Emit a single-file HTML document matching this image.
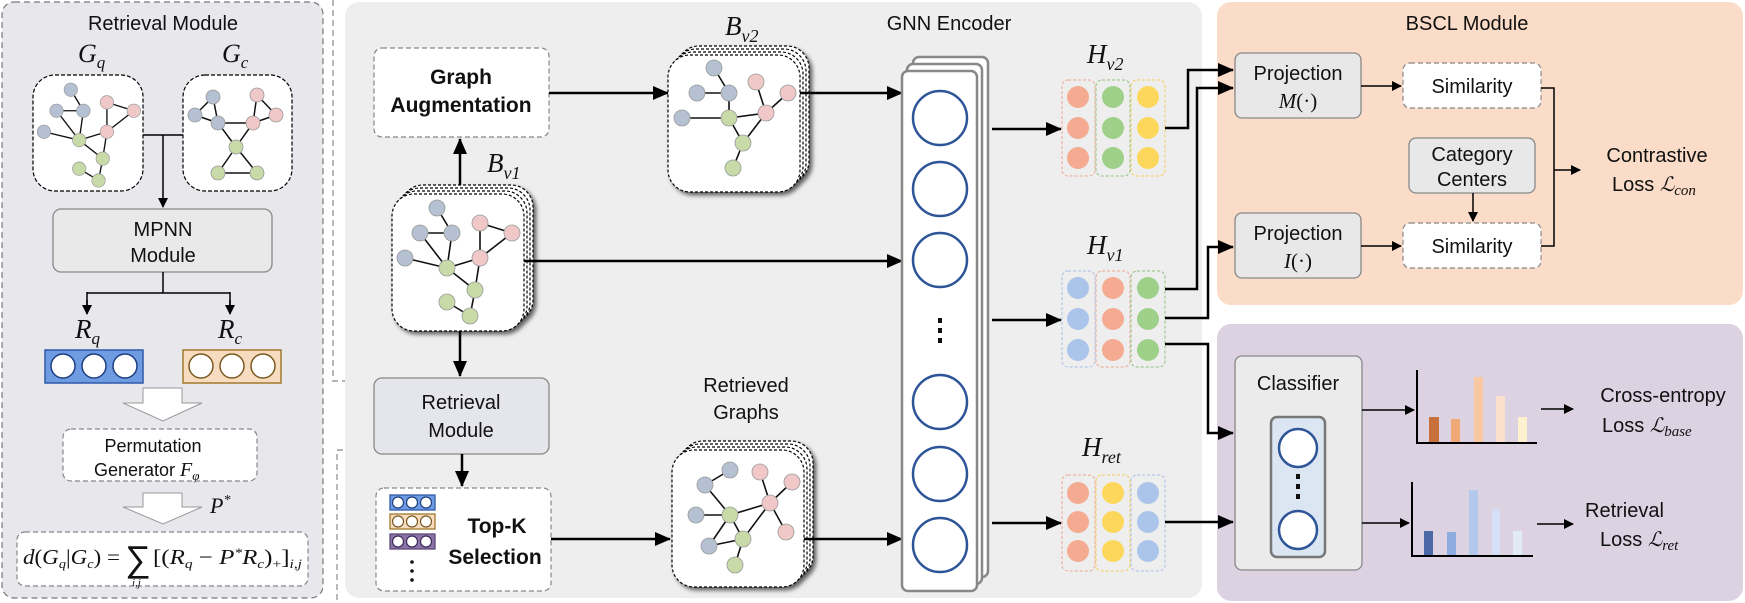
<!DOCTYPE html>
<html><head><meta charset="utf-8"><style>
html,body{margin:0;padding:0;background:#fff;}
svg{display:block;}
text{font-family:"Liberation Sans",sans-serif;fill:#111;}
.m{font-family:"Liberation Serif",serif;font-style:italic;}
</style></head><body>
<svg width="1745" height="603" viewBox="0 0 1745 603" xmlns="http://www.w3.org/2000/svg">
<defs>
<marker id="a" markerWidth="10" markerHeight="10" refX="9" refY="5" orient="auto" markerUnits="userSpaceOnUse"><path d="M0,0 L10,5 L0,10 z" fill="#000"/></marker>
<marker id="ab" markerWidth="16" markerHeight="14" refX="15" refY="7" orient="auto" markerUnits="userSpaceOnUse"><path d="M0,0 L16,7 L0,14 z" fill="#000"/></marker>
<g id="card">
<rect x="9" y="-9" width="132" height="137" rx="22" fill="#fff" stroke="#000" stroke-dasharray="3,2" stroke-width="1.2"/>
<rect x="6" y="-6" width="132" height="137" rx="22" fill="#fff" stroke="#000" stroke-dasharray="3,2" stroke-width="1.2"/>
<rect x="3" y="-3" width="132" height="137" rx="22" fill="#fff" stroke="#000" stroke-dasharray="3,2" stroke-width="1.2"/>
<rect x="0" y="0" width="132" height="137" rx="22" fill="#fff" stroke="#000" stroke-dasharray="3,2" stroke-width="1.2"/>
</g>
<g id="g1" stroke="#111" stroke-width="1.6">
<line x1="45" y1="14" x2="60" y2="39"/><line x1="28" y1="39" x2="60" y2="39"/><line x1="28" y1="39" x2="55" y2="74"/><line x1="60" y1="39" x2="55" y2="74"/><line x1="13" y1="64" x2="55" y2="74"/><line x1="55" y1="74" x2="88" y2="64"/><line x1="88" y1="29" x2="88" y2="64"/><line x1="88" y1="29" x2="120" y2="39"/><line x1="120" y1="39" x2="88" y2="64"/><line x1="55" y1="74" x2="83" y2="96"/><line x1="88" y1="64" x2="83" y2="96"/><line x1="83" y1="96" x2="78" y2="122"/><line x1="55" y1="108" x2="78" y2="122"/>
<g stroke="#999" stroke-width="0.8">
<ellipse cx="45" cy="14" rx="8" ry="8" fill="#b5c1d2"/><ellipse cx="28" cy="39" rx="8" ry="8" fill="#b5c1d2"/><ellipse cx="60" cy="39" rx="8" ry="8" fill="#b5c1d2"/><ellipse cx="13" cy="64" rx="8" ry="8" fill="#b5c1d2"/>
<ellipse cx="88" cy="29" rx="8" ry="8" fill="#f1c8c8"/><ellipse cx="120" cy="39" rx="8" ry="8" fill="#f1c8c8"/><ellipse cx="88" cy="64" rx="8" ry="8" fill="#f1c8c8"/>
<ellipse cx="55" cy="74" rx="8" ry="8" fill="#c7daa8"/><ellipse cx="83" cy="96" rx="8" ry="8" fill="#c7daa8"/><ellipse cx="55" cy="108" rx="8" ry="8" fill="#c7daa8"/><ellipse cx="78" cy="122" rx="8" ry="8" fill="#c7daa8"/>
</g></g>
<g id="g2" stroke="#111" stroke-width="1.6">
<line x1="46" y1="13" x2="61" y2="38"/><line x1="29" y1="38" x2="61" y2="38"/><line x1="61" y1="38" x2="61" y2="63"/><line x1="14" y1="63" x2="61" y2="63"/><line x1="61" y1="63" x2="98" y2="58"/><line x1="88" y1="27" x2="98" y2="58"/><line x1="120" y1="38" x2="98" y2="58"/><line x1="61" y1="63" x2="75" y2="88"/><line x1="98" y1="58" x2="75" y2="88"/><line x1="75" y1="88" x2="65" y2="113"/>
<g stroke="#999" stroke-width="0.8">
<ellipse cx="46" cy="13" rx="8" ry="8" fill="#b5c1d2"/><ellipse cx="29" cy="38" rx="8" ry="8" fill="#b5c1d2"/><ellipse cx="61" cy="38" rx="8" ry="8" fill="#b5c1d2"/><ellipse cx="14" cy="63" rx="8" ry="8" fill="#b5c1d2"/>
<ellipse cx="88" cy="27" rx="8" ry="8" fill="#f1c8c8"/><ellipse cx="120" cy="38" rx="8" ry="8" fill="#f1c8c8"/><ellipse cx="98" cy="58" rx="8" ry="8" fill="#f1c8c8"/>
<ellipse cx="61" cy="63" rx="8" ry="8" fill="#c7daa8"/><ellipse cx="75" cy="88" rx="8" ry="8" fill="#c7daa8"/><ellipse cx="65" cy="113" rx="8" ry="8" fill="#c7daa8"/>
</g></g>
<g id="g3" stroke="#111" stroke-width="1.6">
<line x1="58" y1="20" x2="33" y2="35"/><line x1="33" y1="35" x2="58" y2="65"/><line x1="24" y1="65" x2="58" y2="65"/><line x1="58" y1="65" x2="98" y2="53"/><line x1="88" y1="22" x2="98" y2="53"/><line x1="120" y1="32" x2="98" y2="53"/><line x1="98" y1="53" x2="71" y2="89"/><line x1="58" y1="65" x2="71" y2="89"/><line x1="58" y1="65" x2="37" y2="96"/><line x1="37" y1="96" x2="71" y2="89"/><line x1="71" y1="89" x2="63" y2="115"/><line x1="98" y1="53" x2="114" y2="82"/>
<g stroke="#999" stroke-width="0.8">
<ellipse cx="58" cy="20" rx="8" ry="8" fill="#b5c1d2"/><ellipse cx="33" cy="35" rx="8" ry="8" fill="#b5c1d2"/><ellipse cx="24" cy="65" rx="8" ry="8" fill="#b5c1d2"/><ellipse cx="37" cy="96" rx="8" ry="8" fill="#b5c1d2"/>
<ellipse cx="88" cy="22" rx="8" ry="8" fill="#f1c8c8"/><ellipse cx="120" cy="32" rx="8" ry="8" fill="#f1c8c8"/><ellipse cx="98" cy="53" rx="8" ry="8" fill="#f1c8c8"/><ellipse cx="114" cy="82" rx="8" ry="8" fill="#f1c8c8"/>
<ellipse cx="58" cy="65" rx="8" ry="8" fill="#c7daa8"/><ellipse cx="71" cy="89" rx="8" ry="8" fill="#c7daa8"/><ellipse cx="63" cy="115" rx="8" ry="8" fill="#c7daa8"/>
</g></g>
<filter id="sh" x="-10%" y="-10%" width="130%" height="130%"><feDropShadow dx="3" dy="3" stdDeviation="2" flood-color="#000" flood-opacity="0.6"/></filter>
</defs>

<!-- LEFT PANEL -->
<rect x="2" y="2" width="321" height="596" rx="12" fill="#e7e7ec" stroke="#777" stroke-dasharray="6,4" stroke-width="1.2"/>
<text x="163" y="30" font-size="20" text-anchor="middle">Retrieval Module</text>
<text x="78" y="62" font-size="26" class="m">G<tspan font-size="17" dy="6">q</tspan></text>
<text x="222" y="62" font-size="26" class="m">G<tspan font-size="17" dy="6">c</tspan></text>
<rect x="33" y="75" width="110" height="116" rx="22" fill="#fff" stroke="#000" stroke-dasharray="4,2" stroke-width="1.2"/>
<g transform="translate(33,78) scale(0.84)"><use href="#g1"/></g>
<rect x="183" y="75" width="109" height="116" rx="22" fill="#fff" stroke="#000" stroke-dasharray="4,2" stroke-width="1.2"/>
<g stroke="#111" stroke-width="1.5">
<line x1="213" y1="97" x2="195" y2="115"/><line x1="195" y1="115" x2="218" y2="123"/><line x1="213" y1="97" x2="218" y2="123"/>
<line x1="257" y1="95" x2="276" y2="115"/><line x1="276" y1="115" x2="253" y2="123"/><line x1="257" y1="95" x2="253" y2="123"/>
<line x1="218" y1="123" x2="253" y2="123"/><line x1="218" y1="123" x2="236" y2="147"/><line x1="253" y1="123" x2="236" y2="147"/>
<line x1="236" y1="147" x2="218" y2="173"/><line x1="236" y1="147" x2="257" y2="173"/><line x1="218" y1="173" x2="257" y2="173"/>
</g>
<g stroke="#999" stroke-width="0.8">
<ellipse cx="213" cy="97" rx="7" ry="7" fill="#b5c1d2"/><ellipse cx="195" cy="115" rx="7" ry="7" fill="#b5c1d2"/><ellipse cx="218" cy="123" rx="7" ry="7" fill="#b5c1d2"/>
<ellipse cx="257" cy="95" rx="7" ry="7" fill="#f1c8c8"/><ellipse cx="276" cy="115" rx="7" ry="7" fill="#f1c8c8"/><ellipse cx="253" cy="123" rx="7" ry="7" fill="#f1c8c8"/>
<ellipse cx="236" cy="147" rx="7" ry="7" fill="#c7daa8"/><ellipse cx="218" cy="173" rx="7" ry="7" fill="#c7daa8"/><ellipse cx="257" cy="173" rx="7" ry="7" fill="#c7daa8"/>
</g>
<path d="M143,135 H183 M163,135 V207" stroke="#000" stroke-width="1.5" fill="none" marker-end="url(#a)"/>
<rect x="53" y="209" width="219" height="63" rx="8" fill="#e9e9e9" stroke="#888" stroke-width="1.3"/>
<text x="163" y="236" font-size="20" text-anchor="middle">MPNN</text>
<text x="163" y="262" font-size="20" text-anchor="middle">Module</text>
<path d="M163,272 V293 M87,293 H230 M87,292 V313 M230,292 V313" stroke="#000" stroke-width="1.5" fill="none"/>
<path d="M87,300 V314" stroke="#000" stroke-width="1.5" marker-end="url(#a)"/>
<path d="M230,300 V314" stroke="#000" stroke-width="1.5" marker-end="url(#a)"/>
<text x="75" y="338" font-size="27" class="m">R<tspan font-size="17" dy="6">q</tspan></text>
<text x="218" y="338" font-size="27" class="m">R<tspan font-size="17" dy="6">c</tspan></text>
<rect x="45" y="350" width="98" height="33" fill="#6f9be3" stroke="#2f5aa8" stroke-width="1.5"/>
<circle cx="63" cy="366" r="12" fill="#fff" stroke="#1d3f80" stroke-width="1.5"/><circle cx="94" cy="366" r="12" fill="#fff" stroke="#1d3f80" stroke-width="1.5"/><circle cx="125" cy="366" r="12" fill="#fff" stroke="#1d3f80" stroke-width="1.5"/>
<rect x="183" y="350" width="98" height="33" fill="#f8dcbf" stroke="#a0782c" stroke-width="1.5"/>
<circle cx="201" cy="366" r="12" fill="#fff" stroke="#7a5a20" stroke-width="1.5"/><circle cx="232" cy="366" r="12" fill="#fff" stroke="#7a5a20" stroke-width="1.5"/><circle cx="263" cy="366" r="12" fill="#fff" stroke="#7a5a20" stroke-width="1.5"/>
<polygon points="143,388 182,388 182,403 202,403 163,421 123,403 143,403" fill="#fff" stroke="#999" stroke-width="1"/>
<rect x="63" y="429" width="194" height="52" rx="8" fill="#fff" stroke="#888" stroke-dasharray="5,3" stroke-width="1.2"/>
<text x="153" y="452" font-size="18" text-anchor="middle">Permutation</text>
<text x="94" y="476" font-size="18">Generator <tspan class="m" font-size="20">F</tspan><tspan class="m" font-size="13" dy="4">φ</tspan></text>
<polygon points="143,493 182,493 182,507 202,507 163,524 123,507 143,507" fill="#fff" stroke="#999" stroke-width="1"/>
<text x="210" y="513" font-size="22" class="m">P<tspan font-size="14" dy="-9">*</tspan></text>
<rect x="17" y="532" width="291" height="54" rx="8" fill="#fff" stroke="#888" stroke-dasharray="5,3" stroke-width="1.2"/>
<text x="23" y="564" font-size="21" class="m" textLength="97" lengthAdjust="spacingAndGlyphs">d<tspan font-style="normal">(</tspan>G<tspan font-size="13" dy="4">q</tspan><tspan dy="-4" font-style="normal">|</tspan>G<tspan font-size="13" dy="4">c</tspan><tspan dy="-4" font-style="normal">) =</tspan></text>
<text x="125" y="571" font-size="36" font-family="DejaVu Serif">∑</text>
<text x="132" y="586" font-size="11" class="m">i,j</text>
<text x="153" y="564" font-size="21" class="m" textLength="149" lengthAdjust="spacingAndGlyphs"><tspan font-style="normal">[(</tspan>R<tspan font-size="13" dy="4">q</tspan><tspan dy="-4" font-style="normal"> − </tspan>P<tspan font-size="13" dy="-7">*</tspan><tspan dy="7">R</tspan><tspan font-size="13" dy="4">c</tspan><tspan dy="-4" font-style="normal">)</tspan><tspan font-size="13" dy="4" font-style="normal">+</tspan><tspan dy="-4" font-style="normal">]</tspan><tspan font-size="13" dy="4">i,j</tspan></text>

<!-- dashed connectors -->
<path d="M333,0 V381 H373 M373,450 H337 V603" stroke="#888" stroke-dasharray="6,4" stroke-width="1.2" fill="none"/>

<!-- MIDDLE PANEL -->
<rect x="345" y="2" width="857" height="596" rx="14" fill="#eeeeee"/>
<rect x="374" y="48" width="175" height="89" rx="8" fill="#fff" stroke="#888" stroke-dasharray="5,3" stroke-width="1.2"/>
<text x="461" y="84" font-size="21" font-weight="bold" text-anchor="middle">Graph</text>
<text x="461" y="112" font-size="21" font-weight="bold" text-anchor="middle">Augmentation</text>
<path d="M549,93 H668" stroke="#000" stroke-width="2.5" marker-end="url(#ab)"/>
<text x="725" y="35" font-size="27" class="m">B<tspan font-size="18" dy="7">v2</tspan></text>
<g transform="translate(668,55)" filter="url(#sh)"><use href="#card"/></g>
<g transform="translate(668,55)"><use href="#g2"/></g>
<path d="M800,93 H902" stroke="#000" stroke-width="2.5" marker-end="url(#ab)"/>
<text x="487" y="172" font-size="27" class="m">B<tspan font-size="18" dy="7">v1</tspan></text>
<path d="M460,192 V139" stroke="#000" stroke-width="2.5" marker-end="url(#ab)"/>
<g transform="translate(392,194)" filter="url(#sh)"><use href="#card"/></g>
<g transform="translate(392,194)"><use href="#g1"/></g>
<path d="M524,261 H902" stroke="#000" stroke-width="2.5" marker-end="url(#ab)"/>
<path d="M460,331 V376" stroke="#000" stroke-width="2.5" marker-end="url(#ab)"/>
<rect x="374" y="378" width="175" height="76" rx="8" fill="#e5e5ec" stroke="#888" stroke-width="1.3"/>
<text x="461" y="409" font-size="20" text-anchor="middle">Retrieval</text>
<text x="461" y="437" font-size="20" text-anchor="middle">Module</text>
<path d="M462,454 V486" stroke="#000" stroke-width="2.5" marker-end="url(#ab)"/>
<rect x="376" y="488" width="175" height="103" rx="8" fill="#fff" stroke="#888" stroke-dasharray="5,3" stroke-width="1.2"/>
<g stroke-width="1.3">
<rect x="390" y="495" width="45" height="15" fill="#6f9be3" stroke="#2f5aa8"/>
<rect x="390" y="514" width="45" height="15" fill="#f8dcbf" stroke="#a0782c"/>
<rect x="390" y="534" width="45" height="15" fill="#8d74a8" stroke="#5a4a78"/>
</g>
<g fill="#fff" stroke-width="1.2">
<circle cx="398" cy="502.5" r="5.5" stroke="#1d3f80"/><circle cx="412" cy="502.5" r="5.5" stroke="#1d3f80"/><circle cx="426" cy="502.5" r="5.5" stroke="#1d3f80"/>
<circle cx="398" cy="521.5" r="5.5" stroke="#7a5a20"/><circle cx="412" cy="521.5" r="5.5" stroke="#7a5a20"/><circle cx="426" cy="521.5" r="5.5" stroke="#7a5a20"/>
<circle cx="398" cy="541.5" r="5.5" stroke="#3a2a58"/><circle cx="412" cy="541.5" r="5.5" stroke="#3a2a58"/><circle cx="426" cy="541.5" r="5.5" stroke="#3a2a58"/>
</g>
<circle cx="412" cy="562" r="1.8" fill="#111"/><circle cx="412" cy="571" r="1.8" fill="#111"/><circle cx="412" cy="580" r="1.8" fill="#111"/>
<text x="497" y="533" font-size="21" font-weight="bold" text-anchor="middle">Top-K</text>
<text x="495" y="564" font-size="21" font-weight="bold" text-anchor="middle">Selection</text>
<path d="M551,539 H670" stroke="#000" stroke-width="2.5" marker-end="url(#ab)"/>
<text x="746" y="392" font-size="20" text-anchor="middle">Retrieved</text>
<text x="746" y="419" font-size="20" text-anchor="middle">Graphs</text>
<g transform="translate(672,450)" filter="url(#sh)"><use href="#card"/></g>
<g transform="translate(672,450)"><use href="#g3"/></g>
<path d="M804,539 H902" stroke="#000" stroke-width="2.5" marker-end="url(#ab)"/>
<text x="949" y="30" font-size="20" text-anchor="middle">GNN Encoder</text>
<rect x="913" y="57" width="75" height="520" rx="6" fill="#fff" stroke="#888" stroke-width="2.5"/>
<rect x="907" y="64" width="75" height="520" rx="6" fill="#fff" stroke="#888" stroke-width="2.5"/>
<rect x="902" y="71" width="75" height="520" rx="6" fill="#fff" stroke="#888" stroke-width="2.5"/>
<g fill="none" stroke="#2e5597" stroke-width="2.5">
<circle cx="940" cy="118" r="27"/><circle cx="940" cy="189" r="27"/><circle cx="940" cy="260" r="27"/>
<circle cx="940" cy="402" r="27"/><circle cx="940" cy="474" r="27"/><circle cx="940" cy="545" r="27"/>
</g>
<rect x="938" y="318" width="4" height="5" fill="#111"/><rect x="938" y="328" width="4" height="5" fill="#111"/><rect x="938" y="338" width="4" height="5" fill="#111"/>
<path d="M992,129 H1061" stroke="#000" stroke-width="2.5" marker-end="url(#ab)"/>
<path d="M992,320 H1061" stroke="#000" stroke-width="2.5" marker-end="url(#ab)"/>
<path d="M992,523 H1061" stroke="#000" stroke-width="2.5" marker-end="url(#ab)"/>

<!-- H vectors -->
<text x="1087" y="63" font-size="27" class="m">H<tspan font-size="18" dy="7">v2</tspan></text>
<g stroke-dasharray="3,2" stroke-width="1" fill="none">
<rect x="1062" y="80" width="33" height="96" rx="6" stroke="#eea58e"/><rect x="1096" y="80" width="34" height="96" rx="6" stroke="#8fc27c"/><rect x="1131" y="80" width="34" height="96" rx="6" stroke="#f3cf5a"/>
</g>
<g><circle cx="1078" cy="97" r="11" fill="#f4ab92"/><circle cx="1078" cy="128" r="11" fill="#f4ab92"/><circle cx="1078" cy="158" r="11" fill="#f4ab92"/>
<circle cx="1113" cy="97" r="11" fill="#9fd08a"/><circle cx="1113" cy="128" r="11" fill="#9fd08a"/><circle cx="1113" cy="158" r="11" fill="#9fd08a"/>
<circle cx="1148" cy="97" r="11" fill="#fdd75b"/><circle cx="1148" cy="128" r="11" fill="#fdd75b"/><circle cx="1148" cy="158" r="11" fill="#fdd75b"/></g>
<text x="1087" y="254" font-size="27" class="m">H<tspan font-size="18" dy="7">v1</tspan></text>
<g stroke-dasharray="3,2" stroke-width="1" fill="none">
<rect x="1062" y="271" width="33" height="96" rx="6" stroke="#a8bfe6"/><rect x="1096" y="271" width="34" height="96" rx="6" stroke="#eea58e"/><rect x="1131" y="271" width="34" height="96" rx="6" stroke="#8fc27c"/>
</g>
<g><circle cx="1078" cy="288" r="11" fill="#aac4ea"/><circle cx="1078" cy="319" r="11" fill="#aac4ea"/><circle cx="1078" cy="350" r="11" fill="#aac4ea"/>
<circle cx="1113" cy="288" r="11" fill="#f4ab92"/><circle cx="1113" cy="319" r="11" fill="#f4ab92"/><circle cx="1113" cy="350" r="11" fill="#f4ab92"/>
<circle cx="1148" cy="288" r="11" fill="#9fd08a"/><circle cx="1148" cy="319" r="11" fill="#9fd08a"/><circle cx="1148" cy="350" r="11" fill="#9fd08a"/></g>
<text x="1082" y="456" font-size="27" class="m">H<tspan font-size="18" dy="7">ret</tspan></text>
<g stroke-dasharray="3,2" stroke-width="1" fill="none">
<rect x="1062" y="475" width="33" height="96" rx="6" stroke="#eea58e"/><rect x="1096" y="475" width="34" height="96" rx="6" stroke="#f3cf5a"/><rect x="1131" y="475" width="34" height="96" rx="6" stroke="#a8bfe6"/>
</g>
<g><circle cx="1078" cy="493" r="11" fill="#f4ab92"/><circle cx="1078" cy="522" r="11" fill="#f4ab92"/><circle cx="1078" cy="551" r="11" fill="#f4ab92"/>
<circle cx="1113" cy="493" r="11" fill="#fdd75b"/><circle cx="1113" cy="522" r="11" fill="#fdd75b"/><circle cx="1113" cy="551" r="11" fill="#fdd75b"/>
<circle cx="1148" cy="493" r="11" fill="#aac4ea"/><circle cx="1148" cy="522" r="11" fill="#aac4ea"/><circle cx="1148" cy="551" r="11" fill="#aac4ea"/></g>

<!-- BSCL PANEL -->
<rect x="1217" y="2" width="526" height="303" rx="14" fill="#fadcc8"/>
<rect x="1217" y="324" width="526" height="277" rx="14" fill="#dcd2e2"/>
<text x="1467" y="30" font-size="20" text-anchor="middle">BSCL Module</text>
<path d="M1165,128 H1188 V70 H1233" stroke="#000" stroke-width="2.5" fill="none" marker-end="url(#ab)"/>
<path d="M1165,289 H1197 V88 H1233" stroke="#000" stroke-width="2.5" fill="none" marker-end="url(#ab)"/>
<path d="M1165,318 H1208 V247 H1233" stroke="#000" stroke-width="2.5" fill="none" marker-end="url(#ab)"/>
<path d="M1165,344 H1208 V433 H1233" stroke="#000" stroke-width="2.5" fill="none" marker-end="url(#ab)"/>
<path d="M1165,522 H1233" stroke="#000" stroke-width="2.5" fill="none" marker-end="url(#ab)"/>
<rect x="1235" y="53" width="126" height="65" rx="7" fill="#e8e8e8" stroke="#888" stroke-width="1.3"/>
<text x="1298" y="80" font-size="20" text-anchor="middle">Projection</text>
<text x="1298" y="108" font-size="21" text-anchor="middle" class="m">M<tspan font-style="normal">(·)</tspan></text>
<rect x="1235" y="213" width="126" height="65" rx="7" fill="#e8e8e8" stroke="#888" stroke-width="1.3"/>
<text x="1298" y="240" font-size="20" text-anchor="middle">Projection</text>
<text x="1298" y="268" font-size="21" text-anchor="middle" class="m">I<tspan font-style="normal">(·)</tspan></text>
<path d="M1361,86 H1401" stroke="#000" stroke-width="1.5" marker-end="url(#a)"/>
<path d="M1361,246 H1401" stroke="#000" stroke-width="1.5" marker-end="url(#a)"/>
<rect x="1403" y="63" width="138" height="45" rx="7" fill="#fff" stroke="#888" stroke-dasharray="5,3" stroke-width="1.2"/>
<text x="1472" y="93" font-size="20" text-anchor="middle">Similarity</text>
<rect x="1409" y="138" width="126" height="55" rx="7" fill="#e8e8e8" stroke="#888" stroke-width="1.3"/>
<text x="1472" y="161" font-size="20" text-anchor="middle">Category</text>
<text x="1472" y="186" font-size="20" text-anchor="middle">Centers</text>
<path d="M1473,193 V221" stroke="#000" stroke-width="1.5" marker-end="url(#a)"/>
<rect x="1403" y="223" width="138" height="45" rx="7" fill="#fff" stroke="#888" stroke-dasharray="5,3" stroke-width="1.2"/>
<text x="1472" y="253" font-size="20" text-anchor="middle">Similarity</text>
<path d="M1541,88 H1554 V246 H1541 M1554,170 H1580" stroke="#000" stroke-width="1.5" fill="none" marker-end="url(#a)"/>
<text x="1657" y="162" font-size="20" text-anchor="middle">Contrastive</text>
<text x="1612" y="191" font-size="20">Loss <tspan class="m" font-family="DejaVu Serif" font-size="20">ℒ</tspan><tspan class="m" font-size="15" dy="4">con</tspan></text>

<!-- classifier -->
<rect x="1235" y="356" width="127" height="214" rx="7" fill="#ebebeb" stroke="#888" stroke-width="1.3"/>
<text x="1298" y="390" font-size="20" text-anchor="middle">Classifier</text>
<rect x="1271" y="417" width="54" height="140" rx="6" fill="#dce6f3" stroke="#777" stroke-width="2.5"/>
<circle cx="1298" cy="448" r="19" fill="#fff" stroke="#2e5597" stroke-width="2.5"/>
<circle cx="1298" cy="530" r="19" fill="#fff" stroke="#2e5597" stroke-width="2.5"/>
<rect x="1296" y="474" width="4" height="5" fill="#111"/><rect x="1296" y="484" width="4" height="5" fill="#111"/><rect x="1296" y="494" width="4" height="5" fill="#111"/>
<path d="M1362,410 H1414" stroke="#000" stroke-width="1.5" marker-end="url(#a)"/>
<path d="M1362,523 H1409" stroke="#000" stroke-width="1.5" marker-end="url(#a)"/>
<!-- chart1 -->
<rect x="1429" y="417" width="10" height="26" fill="#c8703c"/>
<rect x="1451" y="419" width="9" height="24" fill="#f0a876"/>
<rect x="1474" y="377" width="9" height="66" fill="#f8c8a2"/>
<rect x="1496" y="396" width="9" height="47" fill="#fbe0cd"/>
<rect x="1518" y="417" width="9" height="26" fill="#fdf1cf"/>
<path d="M1417,370 V443 H1537" stroke="#000" stroke-width="2" fill="none"/>
<path d="M1541,409 H1573" stroke="#000" stroke-width="1.5" marker-end="url(#a)"/>
<text x="1663" y="402" font-size="20" text-anchor="middle">Cross-entropy</text>
<text x="1602" y="432" font-size="20">Loss <tspan font-family="DejaVu Serif" font-style="italic">ℒ</tspan><tspan class="m" font-size="15" dy="4">base</tspan></text>
<!-- chart2 -->
<rect x="1424" y="531" width="9" height="25" fill="#4a68a6"/>
<rect x="1447" y="532" width="9" height="24" fill="#8eace0"/>
<rect x="1469" y="490" width="9" height="66" fill="#b2c8ec"/>
<rect x="1492" y="509" width="8" height="47" fill="#d4e0f3"/>
<rect x="1513" y="531" width="9" height="25" fill="#e2eaf6"/>
<path d="M1412,482 V556 H1533" stroke="#000" stroke-width="2" fill="none"/>
<path d="M1537,524 H1573" stroke="#000" stroke-width="1.5" marker-end="url(#a)"/>
<text x="1585" y="517" font-size="20">Retrieval</text>
<text x="1600" y="546" font-size="20">Loss <tspan font-family="DejaVu Serif" font-style="italic">ℒ</tspan><tspan class="m" font-size="15" dy="4">ret</tspan></text>
</svg>
</body></html>
